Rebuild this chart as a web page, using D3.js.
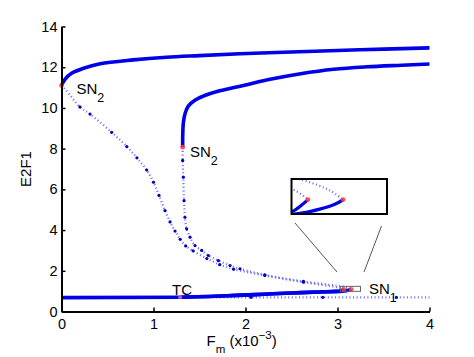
<!DOCTYPE html>
<html><head><meta charset="utf-8">
<script src="https://cdn.jsdelivr.net/npm/d3@7/dist/d3.min.js"></script>
<style>html,body{margin:0;padding:0;background:#fff;}svg{display:block;font-family:"Liberation Sans",Arial,sans-serif;}</style>
</head><body><svg id="c" width="474" height="357"></svg>
<script>
// ---- data (F in units of 1e-3, E = E2F1) ----
const xTicks = [0, 1, 2, 3, 4];
const yTicks = [0, 2, 4, 6, 8, 10, 12, 14];
// stable upper branch from SN2 at F=0
const upper1F = [0, 0.04, 0.11, 0.24, 0.42, 0.78, 1.14, 1.5, 1.94, 2.5, 3.0, 3.5, 4.0];
const upper1E = [11.1, 11.42, 11.7, 11.95, 12.17, 12.36, 12.49, 12.57, 12.66, 12.75, 12.82, 12.89, 12.95];
// stable upper branch from SN2 at F=1.317
const upper2F = [1.317, 1.318, 1.325, 1.345, 1.38, 1.45, 1.55, 1.7, 1.875, 2.0, 2.24, 2.6, 2.96, 3.32, 3.7, 4.0];
const upper2E = [8.07, 8.7, 9.3, 9.75, 10.1, 10.38, 10.6, 10.82, 11.0, 11.13, 11.38, 11.68, 11.9, 12.02, 12.1, 12.16];
// unstable branch from SN2 at F=0 down to SN1 (left fold)
const unst1F = [0, 0.04, 0.2, 0.31, 0.545, 0.71, 0.82, 0.926, 1.0, 1.06, 1.125, 1.18, 1.234, 1.29, 1.35, 1.43, 1.58, 1.72, 1.87, 2.21, 2.63, 2.99, 3.038, 3.068];
const unst1E = [11.1, 10.92, 10.05, 9.7, 8.8, 8.1, 7.55, 6.95, 6.35, 5.7, 4.96, 4.4, 3.95, 3.55, 3.22, 2.98, 2.6, 2.3, 2.08, 1.77, 1.44, 1.2, 1.155, 1.091];
// unstable branch from SN2 at F=1.317 down to SN1 (right fold)
const unst2F = [1.317, 1.317, 1.324, 1.332, 1.342, 1.36, 1.397, 1.451, 1.524, 1.596, 1.705, 1.832, 1.94, 2.21, 2.63, 2.99, 3.061, 3.118, 3.149];
const unst2E = [8.07, 7.42, 6.6, 5.45, 4.63, 4.06, 3.65, 3.24, 3.0, 2.75, 2.5, 2.26, 2.1, 1.8, 1.48, 1.27, 1.223, 1.155, 1.091];
// lower stable branch (before TC)
const low0F = [0, 1.29];
const low0E = [0.68, 0.70];
// lower unstable continuation after TC
const low1F = [1.29, 4.0];
const low1E = [0.70, 0.69];
const low1DotsF = [2.06, 2.84, 3.64];
// stable branches from TC up to the two SN1 folds
const lowS1F = [1.29, 1.6, 1.9, 2.2, 2.5, 2.8, 2.95, 3.0, 3.031, 3.0445, 3.056, 3.068];
const lowS1E = [0.70, 0.74, 0.79, 0.85, 0.91, 0.96, 0.985, 0.995, 1.006, 1.031, 1.059, 1.091];
const lowS2F = [1.29, 1.6, 1.9, 2.2, 2.5, 2.8, 2.95, 3.031, 3.049, 3.072, 3.095, 3.118, 3.137, 3.149];
const lowS2E = [0.70, 0.74, 0.79, 0.85, 0.91, 0.955, 0.975, 0.987, 0.995, 1.007, 1.024, 1.045, 1.069, 1.091];
// bifurcation points
const snF = [0, 1.317, 3.068, 3.149];
const snE = [11.1, 8.07, 1.091, 1.091];
const tcF = [1.29];
const tcE = [0.70];
// zoom window (data coords)
const zoomF = [3.03, 3.25];
const zoomE = [0.99, 1.235];

// ---- drawing ----
const svg = d3.select("#c");
const x = d3.scaleLinear().domain([0, 4]).range([61.5, 429.5]);
const y = d3.scaleLinear().domain([0, 14]).range([311.5, 26.5]);
const zip = (a, b) => a.map((v, i) => [v, b[i]]);
const BLUE = "#0000e8";

function drawSet(g, sx, sy, solidW) {
  const line = d3.line().x(d => sx(d[0])).y(d => sy(d[1])).curve(d3.curveCatmullRom.alpha(0.5));
  const dotted = (data) => {
    g.append("path").attr("d", line(data)).attr("fill", "none")
      .attr("stroke", "#4646ff").attr("stroke-opacity", 0.75)
      .attr("stroke-width", 2.2).attr("stroke-dasharray", "1.1,2.5");
  };
  const solid = (data) => {
    g.append("path").attr("d", line(data)).attr("fill", "none")
      .attr("stroke", BLUE).attr("stroke-width", solidW).attr("stroke-linecap", "butt");
  };
  dotted(zip(unst1F, unst1E));
  dotted(zip(unst2F, unst2E));
  dotted(zip(low1F, low1E));
  // markers on unstable branches
  const marks = zip(unst1F, unst1E).slice(2).filter(d => d[0] < 2.9)
    .concat(zip(unst2F, unst2E).slice(1).filter(d => d[0] < 2.9))
    .concat(low1DotsF.map(f => [f, d3.interpolateNumber(low1E[0], low1E[1])((f - low1F[0]) / (low1F[1] - low1F[0]))]));
  g.selectAll(null).data(marks).join("circle")
    .attr("cx", d => sx(d[0])).attr("cy", d => sy(d[1])).attr("r", 1.6).attr("fill", "#0000c0");
  solid(zip(upper1F, upper1E));
  solid(zip(upper2F, upper2E));
  solid(zip(low0F, low0E));
  solid(zip(lowS1F, lowS1E));
  solid(zip(lowS2F, lowS2E));
  g.selectAll(null).data(zip(tcF, tcE)).join("circle")
    .attr("cx", d => sx(d[0])).attr("cy", d => sy(d[1])).attr("r", 2).attr("fill", "#d070e0").attr("opacity", 0.8);
  g.selectAll(null).data(zip(snF, snE)).join("circle")
    .attr("cx", d => sx(d[0])).attr("cy", d => sy(d[1])).attr("r", 2.4).attr("fill", "#ff3b3b").attr("opacity", 0.85);
}

const main = svg.append("g");
drawSet(main, x, y, 3.6);

// axes
const ax = svg.append("g").attr("transform", `translate(0,${y(0)})`)
  .call(d3.axisBottom(x).tickValues(xTicks).tickFormat(d3.format("d")).tickSizeInner(-4).tickSizeOuter(0).tickPadding(7));
const ay = svg.append("g").attr("transform", `translate(${x(0)},0)`)
  .call(d3.axisLeft(y).tickValues(yTicks).tickFormat(d3.format("d")).tickSizeInner(-4).tickSizeOuter(0).tickPadding(4));
[ax, ay].forEach(a => {
  a.select(".domain").attr("stroke", "#000").attr("stroke-width", 2);
  a.selectAll(".tick line").attr("stroke", "#000").attr("stroke-width", 1.5);
  a.selectAll(".tick text").attr("font-size", 14.5).attr("fill", "#000").attr("font-family", "Liberation Sans, Arial, sans-serif");
});

// axis titles
const xt = svg.append("text").attr("x", 206.5).attr("y", 346).attr("font-size", 15).attr("fill", "#000");
xt.append("tspan").text("F");
xt.append("tspan").attr("font-size", 11.5).attr("dy", 7).text("m");
xt.append("tspan").attr("dy", -7).text(" (x10");
xt.append("tspan").attr("font-size", 11.5).attr("dy", -7).text("−3");
xt.append("tspan").attr("dy", 7).text(")");
svg.append("text").attr("transform", "translate(30.5,169) rotate(-90)").attr("text-anchor", "middle")
  .attr("font-size", 15).attr("fill", "#000").text("E2F1");

// annotation labels
function lab(px, py, main, sub) {
  const t = svg.append("text").attr("x", px).attr("y", py).attr("font-size", 15).attr("fill", "#000");
  t.append("tspan").text(main);
  if (sub) t.append("tspan").attr("font-size", 12.5).attr("dy", 8).text(sub);
}
lab(76.5, 94, "SN", "2");
lab(190, 157, "SN", "2");
lab(172, 294.5, "TC", null);
lab(369, 293.5, "SN", "1");

// zoom rectangle in main plot
svg.append("rect").attr("x", x(zoomF[0])).attr("y", y(zoomE[1]))
  .attr("width", x(zoomF[1]) - x(zoomF[0])).attr("height", y(zoomE[0]) - y(zoomE[1]))
  .attr("fill", "none").attr("stroke", "#666").attr("stroke-width", 1);

// inset
const ib = {x0: 291.5, x1: 387, y0: 179, y1: 214};
svg.append("line").attr("x1", 337).attr("y1", 272).attr("x2", 295).attr("y2", 223).attr("stroke", "#555").attr("stroke-width", 1);
svg.append("line").attr("x1", 364).attr("y1", 272).attr("x2", 381.5).attr("y2", 226).attr("stroke", "#555").attr("stroke-width", 1);
const xi = d3.scaleLinear().domain(zoomF).range([ib.x0, ib.x1]);
const yi = d3.scaleLinear().domain(zoomE).range([ib.y1, ib.y0]);
svg.append("defs").append("clipPath").attr("id", "ic").append("rect")
  .attr("x", ib.x0).attr("y", ib.y0).attr("width", ib.x1 - ib.x0).attr("height", ib.y1 - ib.y0);
svg.append("rect").attr("x", ib.x0).attr("y", ib.y0).attr("width", ib.x1 - ib.x0).attr("height", ib.y1 - ib.y0).attr("fill", "#fff");
const inset = svg.append("g").attr("clip-path", "url(#ic)");
drawSet(inset, xi, yi, 3.2);
svg.append("rect").attr("x", ib.x0).attr("y", ib.y0).attr("width", ib.x1 - ib.x0).attr("height", ib.y1 - ib.y0)
  .attr("fill", "none").attr("stroke", "#000").attr("stroke-width", 2);
</script></body></html>
